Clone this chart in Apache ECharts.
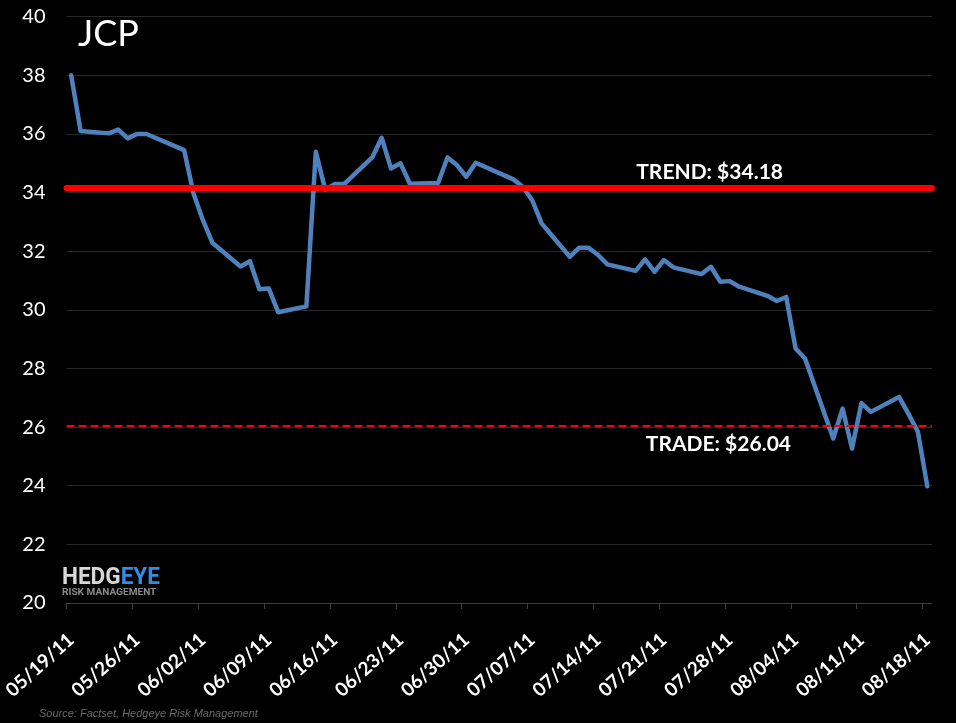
<!DOCTYPE html>
<html><head><meta charset="utf-8">
<script src="https://cdn.jsdelivr.net/npm/echarts@6/dist/echarts.min.js"></script>
<style>html,body{margin:0;padding:0;background:#000}#c{width:956px;height:723px}</style>
</head><body><div id="c"></div>
<script>
const dates = ["05/19/11","05/20/11","05/23/11","05/24/11","05/25/11","05/26/11","05/27/11","05/31/11",
"06/01/11","06/02/11","06/03/11","06/06/11","06/07/11","06/08/11","06/09/11","06/10/11",
"06/13/11","06/14/11","06/15/11","06/16/11","06/17/11","06/20/11","06/21/11","06/22/11","06/23/11","06/24/11",
"06/27/11","06/28/11","06/29/11","06/30/11","07/01/11","07/05/11","07/06/11","07/07/11","07/08/11",
"07/11/11","07/12/11","07/13/11","07/14/11","07/15/11","07/18/11","07/19/11","07/20/11","07/21/11","07/22/11",
"07/25/11","07/26/11","07/27/11","07/28/11","07/29/11","08/01/11","08/02/11","08/03/11","08/04/11","08/05/11",
"08/08/11","08/09/11","08/10/11","08/11/11","08/12/11","08/15/11","08/16/11","08/17/11","08/18/11"];
const prices = [38.0,36.1,36.02,36.15,35.85,36.0,36.0,35.45,
33.97,33.06,32.29,31.48,31.66,30.7,30.73,29.92,
30.12,35.39,34.1,34.29,34.29,35.2,35.87,34.82,35.0,34.3,
34.33,35.2,34.94,34.54,35.02,34.45,34.2,33.74,32.95,
31.81,32.12,32.12,31.87,31.55,31.33,31.72,31.3,31.7,31.45,
31.22,31.47,30.96,30.98,30.79,30.48,30.3,30.44,28.68,28.34,
25.61,26.63,25.27,26.82,26.52,27.03,26.45,25.84,23.98];
const tickLabels = ["05/19/11","05/26/11","06/02/11","06/09/11","06/16/11","06/23/11","06/30/11",
"07/07/11","07/14/11","07/21/11","07/28/11","08/04/11","08/11/11","08/18/11"];
const trendValue = 34.18;
const tradeValue = 26.04;

const base = Date.UTC(2011, 4, 19);
function dayIndex(s) {
  const p = s.split('/').map(Number);
  return Math.round((Date.UTC(2000 + p[2], p[0] - 1, p[1]) - base) / 86400000);
}
const tickPos = tickLabels.map(dayIndex);
const labelPos = tickPos.map(d => d + 0.5);
const seriesData = dates.map((s, i) => [dayIndex(s) + 0.5, prices[i]]);

const chart = echarts.init(document.getElementById('c'));
chart.setOption({
  backgroundColor: '#000',
  animation: false,
  title: {
    text: 'JCP', left: 73, top: 11,
    textStyle: { color: '#fff', fontSize: 36, fontWeight: 'normal', fontFamily: 'Lato' }
  },
  grid: { left: 66.5, right: 24, top: 16.7, bottom: 120, containLabel: false, outerBoundsMode: 'none' },
  xAxis: {
    type: 'value', min: 0, max: 92,
    axisLine: { show: true, lineStyle: { color: '#404040', width: 1 } },
    axisTick: { show: true, length: 6, customValues: tickPos, lineStyle: { color: '#404040' } },
    axisLabel: {
      customValues: labelPos,
      rotate: 42, margin: 34, color: '#fff', fontSize: 19, fontWeight: 'bold', fontFamily: 'Lato',
      formatter: function (v) { const i = tickPos.indexOf(Math.floor(v)); return i >= 0 ? tickLabels[i] : ''; }
    },
    splitLine: { show: false }
  },
  yAxis: {
    type: 'value', min: 20, max: 40, interval: 2,
    axisLine: { show: false }, axisTick: { show: false },
    axisLabel: { color: '#fff', fontSize: 20, fontFamily: 'Lato', margin: 21 },
    splitLine: { lineStyle: { color: '#282828', width: 1 } }
  },
  series: [{
    type: 'line', data: seriesData, symbol: 'none',
    lineStyle: { color: '#4F81BD', width: 4.5, join: 'round', cap: 'round' },
    z: 3,
    markLine: {
      silent: true, symbol: 'none', animation: false,
      data: [
        { yAxis: trendValue,
          lineStyle: { color: '#ff0000', width: 6, type: 'solid', cap: 'round' },
          label: { show: true, position: 'insideEndTop', distance: [149, 5],
            formatter: 'TREND: $' + trendValue.toFixed(2),
            color: '#fff', fontSize: 21, fontWeight: 'bold', fontFamily: 'Lato' } },
        { yAxis: tradeValue,
          lineStyle: { color: '#ff0000', width: 2, type: [8, 4] },
          label: { show: true, position: 'insideEndBottom', distance: [141, 8],
            formatter: 'TRADE: $' + tradeValue.toFixed(2),
            color: '#fff', fontSize: 21, fontWeight: 'bold', fontFamily: 'Lato' } }
      ]
    }
  }],
  graphic: [
    { type: 'text', left: 62, top: 566, scaleX: 0.94,
      style: { text: '{a|HEDG}{b|EYE}', rich: {
        a: { fill: '#d8d8d8', fontSize: 24, fontWeight: 'bold', fontFamily: 'Roboto' },
        b: { fill: '#2f8fe3', fontSize: 24, fontWeight: 'bold', fontFamily: 'Roboto' } } } },
    { type: 'text', left: 62, top: 588, scaleX: 1.12,
      style: { text: 'RISK MANAGEMENT', fill: '#8a8a8a', fontSize: 9, fontFamily: 'Roboto', fontWeight: 'bold' } },
    { type: 'text', left: 39, top: 708,
      style: { text: 'Source: Factset, Hedgeye Risk Management', fill: '#6a6a6a', fontSize: 11,
        fontStyle: 'italic', fontFamily: 'Liberation Sans' } }
  ]
});
</script></body></html>
